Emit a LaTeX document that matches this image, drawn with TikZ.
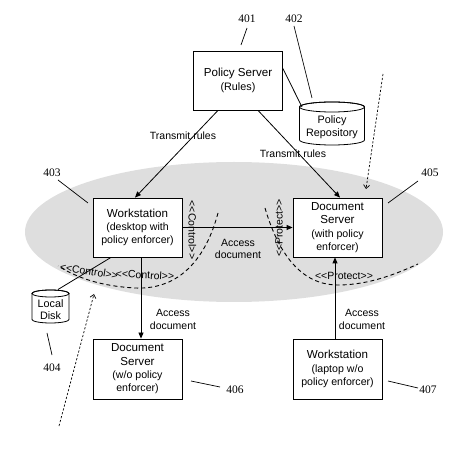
\documentclass[tikz,border=0pt]{standalone}
\usepackage{fontspec}
\setmainfont{Liberation Sans}
\newfontfamily\numfont{Liberation Serif}
\usetikzlibrary{arrows.meta}
\begin{document}
\begin{tikzpicture}[x=1pt,y=1pt,
  box/.style={draw, line width=0.8pt, fill=white, minimum width=89pt, minimum height=59pt, inner sep=0pt, align=center, font=\fontsize{11.6}{13.3}\selectfont},
  lbl/.style={align=center, font=\fontsize{10.5}{12.5}\selectfont, inner sep=0pt},
  num/.style={font=\numfont\fontsize{11.5}{13}\selectfont, inner sep=0pt},
  lead/.style={line width=0.7pt},
  conn/.style={line width=0.8pt, -{Triangle[length=6pt,width=5pt]}},
  dots/.style={line width=0.7pt, dash pattern=on 2.2pt off 1.8pt, -{Straight Barb[length=3.5pt,width=6pt]}},
  ctrl/.style={line width=0.9pt, dash pattern=on 4pt off 3pt},
  cyl/.style={draw, line width=0.8pt, fill=white}
]
\useasboundingbox (0,0) rectangle (474,-470);
% shaded region
\fill[black!13] (234,-232) ellipse (209pt and 70pt);

% boxes
\node[box] (ps) at (238,-80.5) {Policy Server\\{\fontsize{10.8}{13.3}\selectfont (Rules)}};
\node[box] (ws) at (137.5,-227.5) {Workstation\\{\fontsize{10.6}{13.3}\selectfont (desktop with}\\{\fontsize{10.6}{13.3}\selectfont policy enforcer)}};
\node[box] (ds) at (337.5,-227.5) {Document\\Server\\{\fontsize{10.6}{13.3}\selectfont (with policy}\\{\fontsize{10.6}{13.3}\selectfont enforcer)}};
\node[box, minimum height=60pt] (dsw) at (137.5,-369) {Document\\Server\\{\fontsize{10.6}{13.3}\selectfont (w/o policy}\\{\fontsize{10.6}{13.3}\selectfont enforcer)}};
\node[box, minimum height=60pt] (lap) at (337.5,-369) {Workstation\\{\fontsize{10.6}{13.3}\selectfont (laptop w/o}\\{\fontsize{10.6}{13.3}\selectfont policy enforcer)}};

% Policy repository cylinder
\path[cyl] (299.5,-107) -- (299.5,-140) arc (180:360:32.5 and 5) -- (364.5,-107) arc (0:180:32.5 and 5) -- cycle;
\draw[line width=0.8pt] (332,-107) ellipse (32.5 and 5);
\node[lbl, font=\fontsize{10.8}{13}\selectfont] (repo) at (332,-127) {Policy\\Repository};
\coordinate (repotop) at (302,-107);

% Local disk cylinder
\path[cyl] (32,-293.5) -- (32,-319.5) arc (180:360:18.5 and 3.5) -- (69,-293.5) arc (0:180:18.5 and 3.5) -- cycle;
\draw[line width=0.8pt] (50.5,-293.5) ellipse (18.5 and 3.5);
\node[lbl, font=\fontsize{10.8}{12}\selectfont] (disk) at (50.5,-310) {Local\\Disk};
\coordinate (disktop) at (58,-289.5);

% connectors
\draw[line width=0.8pt] ([yshift=12pt]ps.east) -- (repotop);
\draw[conn] ([xshift=-20pt]ps.south) -- ([xshift=-2.5pt]ws.north);
\draw[conn] ([xshift=20pt]ps.south) -- ([xshift=2.5pt]ds.north);
\draw[conn] (ws.east) -- (ds.west);
\draw[conn] ([xshift=3.5pt]ws.south) -- ([xshift=3.5pt]dsw.north);
\draw[conn] ([xshift=-2.5pt]lap.north) -- ([xshift=-2.5pt]ds.south);
\draw[line width=0.8pt] ([xshift=-26.5pt]ws.south) -- (disktop);

\node[lbl] (t1) at (183,-136) {Transmit rules};
\node[lbl] (t2) at (293,-154) {Transmit rules};
\node[lbl] (a1) at (238,-249) {Access\\document};
\node[lbl] (a2) at (173,-319.5) {Access\\document};
\node[lbl] (a3) at (362,-319.5) {Access\\document};

% control / protect curves
\draw[ctrl] (218,-213) .. controls (206,-258) and (180,-290) .. (135,-288) .. controls (100,-286) and (78,-278) .. (58,-266);
\draw[ctrl] (265,-208) .. controls (278,-252) and (300,-285) .. (338,-285) .. controls (370,-285) and (398,-273) .. (418,-264);
\node[lbl, rotate=-90] (c1) at (192.5,-230) {<{}<Control>{}>};
\node[lbl, rotate=90] (p1) at (279,-228) {<{}<Protect>{}>};
\node[lbl, rotate=-9] (c2) at (89,-271) {<{}<Control>{}>};
\node[lbl, rotate=-3] (c3) at (145,-275) {<{}<Control>{}>};
\node[lbl] (p2) at (344,-275.5) {<{}<Protect>{}>};

% dotted arrows
\coordinate (d1s) at (383,-74);
\coordinate (d1e) at (366,-189);
\coordinate (d2s) at (59,-426);
\coordinate (d2e) at (94,-294);
\draw[dots] (d1s) -- (d1e);
\draw[dots] (d2s) -- (d2e);

% reference numbers
\node[num] (n401) at (247,-19) {401};
\node[num] (n402) at (294,-19) {402};
\node[num] (n403) at (52,-173) {403};
\node[num] (n404) at (52,-368) {404};
\node[num] (n405) at (430,-173) {405};
\node[num] (n406) at (235,-390) {406};
\node[num] (n407) at (428,-390) {407};
\draw[lead] (247,-28) -- (241,-45);
\draw[lead] (294,-26) -- (312,-98);
\draw[lead] (58,-180) -- (88,-203);
\draw[lead] (47,-333) -- (52,-355);
\draw[lead] (418,-181) -- (388,-203);
\draw[lead] (191,-381) -- (220,-387);
\draw[lead] (388,-381) -- (418,-388);
\end{tikzpicture}
\end{document}
